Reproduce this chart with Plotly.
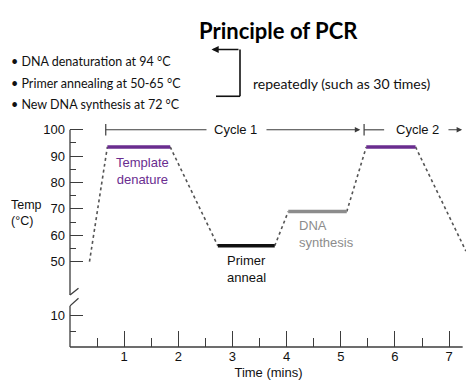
import plotly.graph_objects as go

# ---------------- data ----------------
title_text = "Principle of PCR"
step_lines = ["• DNA denaturation at 94 °C",
              "• Primer annealing at 50-65 °C",
              "• New DNA synthesis at 72 °C"]
repeat_note = "repeatedly (such as 30 times)"

stage_labels = ["Template<br>denature", "Primer<br>anneal", "DNA<br>synthesis", ""]
stage_start = [0.69, 2.73, 4.03, 5.47]   # minutes
stage_end = [1.85, 3.78, 5.11, 6.38]     # minutes
stage_temp = [93.5, 56, 69, 93.5]        # °C
ramp_in = [0.36, 50]                     # first ramp starts here (min, °C)
ramp_out = [7.31, 54]                    # last ramp ends here (min, °C)

cycle_names = ["Cycle 1", "Cycle 2"]
cycle_start = [0.66, 5.43]
cycle_label_x = [3.05, 6.41]

x_major = [1, 2, 3, 4, 5, 6, 7]
x_minor = [0.5, 1.5, 2.5, 3.5, 4.5, 5.5, 6.5]
y_major = [10, 50, 60, 70, 80, 90, 100]
y_minor = [5, 55, 65, 75, 85, 95]

# ---------------- styles / geometry ----------------
OFF = 8                    # page body margin
W, H = 474 - OFF, 387 - OFF
ML, MR, MT, MB = 70 - OFF, 7, 114.4 - OFF, 40
XR = [0, 7.33]
YR = [17.6, 106.0]
BREAK_T = 40.0            # temperatures below this go on the lower (compressed) segment
LOW_OFF, LOW_SCALE = 17.6, 1.19

stage_colors = ["#6a2d8f", "#111111", "#8c8c8c", "#6a2d8f"]
stage_text_colors = ["#6a2d8f", "#111111", "#8c8c8c", "#111111"]
ramp_color = "#555555"
axis_color = "#3c3c3c"
chart_font = "Liberation Sans, Arial, Helvetica, sans-serif"
top_font = "Lato, Open Sans, sans-serif"

PW = W - ML - MR
PH = H - MT - MB


def disp(t):
    """Temperature -> display coordinate on the broken y axis."""
    return t if t >= BREAK_T else LOW_OFF + LOW_SCALE * t


def pxp(px):   # page pixel x -> paper
    return (px - OFF - ML) / PW


def pyp(py):   # page pixel y -> paper
    return (H - MB - (py - OFF)) / PH


def dyp(d):    # display y -> paper
    return (d - YR[0]) / (YR[1] - YR[0])


fig = go.Figure()

# ramps (dotted) between plateaus
ramp_pts = [(ramp_in[0], ramp_in[1])]
for s, e, t in zip(stage_start, stage_end, stage_temp):
    ramp_pts.append((s, t))
    ramp_pts.append((e, t))
ramp_pts.append((ramp_out[0], ramp_out[1]))
for i in range(0, len(ramp_pts), 2):
    (x0, t0), (x1, t1) = ramp_pts[i], ramp_pts[i + 1]
    fig.add_trace(go.Scatter(x=[x0, x1], y=[disp(t0), disp(t1)], mode="lines",
                             line=dict(color=ramp_color, width=1.6, dash="3px,3px"),
                             hoverinfo="skip", showlegend=False))

# plateaus
for s, e, t, c in zip(stage_start, stage_end, stage_temp, stage_colors):
    fig.add_trace(go.Scatter(x=[s, e], y=[disp(t), disp(t)], mode="lines",
                             line=dict(color=c, width=3.5),
                             hoverinfo="skip", showlegend=False))

# stage labels
label_pos = [(1.33, 84.5, "center"), (2.86, 47.3, "left"), (4.19, 60.3, "left")]
for (lx, ly, anc), txt, col in zip(label_pos, stage_labels, stage_text_colors):
    fig.add_annotation(x=lx, y=ly, text=txt, showarrow=False, xanchor=anc,
                       align="left" if anc == "left" else "center",
                       font=dict(family=chart_font, size=13, color=col))

# cycle markers
cy = 100
for cs in cycle_start:
    fig.add_shape(type="line", x0=cs, x1=cs, y0=cy - 2.2, y1=cy + 2.2,
                  line=dict(color=axis_color, width=1.2))
for name, lx in zip(cycle_names, cycle_label_x):
    fig.add_annotation(x=lx, y=cy, text=name, showarrow=False,
                       font=dict(family=chart_font, size=13, color="#111111"))
fig.add_shape(type="line", x0=cycle_start[0], x1=2.52, y0=cy, y1=cy, line=dict(color=axis_color, width=1.1))
fig.add_annotation(x=5.36, y=cy, ax=3.6, ay=cy, axref="x", ayref="y", text="", showarrow=True,
                   arrowhead=2, arrowsize=1, arrowwidth=1.1, arrowcolor=axis_color)
fig.add_shape(type="line", x0=cycle_start[1], x1=5.8, y0=cy, y1=cy, line=dict(color=axis_color, width=1.1))
fig.add_annotation(x=7.24, y=cy, ax=6.96, ay=cy, axref="x", ayref="y", text="", showarrow=True,
                   arrowhead=2, arrowsize=1, arrowwidth=1.1, arrowcolor=axis_color)

# broken y axis + x axis lines (paper coords so they are not clipped)
up_end, up_slash = 37.3, 39.9
lo_start, lo_slash = 33.2, 36.1
slash_dx = 8.5 / PW
axl = dict(color=axis_color, width=1.3)
fig.add_shape(type="line", xref="paper", yref="paper", x0=0, x1=0, y0=dyp(100), y1=dyp(up_end), line=axl)
fig.add_shape(type="line", xref="paper", yref="paper", x0=0, x1=slash_dx, y0=dyp(up_end), y1=dyp(up_slash), line=axl)
fig.add_shape(type="line", xref="paper", yref="paper", x0=0, x1=slash_dx, y0=dyp(lo_start), y1=dyp(lo_slash), line=axl)
fig.add_shape(type="line", xref="paper", yref="paper", x0=0, x1=0, y0=dyp(lo_start), y1=0, line=axl)
fig.add_shape(type="line", xref="paper", yref="paper", x0=0, x1=(7.25 - XR[0]) / (XR[1] - XR[0]), y0=0, y1=0, line=axl)

# y axis title
fig.add_annotation(xref="paper", yref="y", x=pxp(9), y=68.3, xanchor="left", align="left",
                   text="Temp<br>(°C)", showarrow=False,
                   font=dict(family=chart_font, size=12.5, color="#111111"))

# top texts
fig.add_annotation(xref="paper", yref="paper", x=pxp(197), y=pyp(16), text="<b>" + title_text + "</b>",
                   showarrow=False, font=dict(family=top_font, size=22, color="#000000"))
for i, line in enumerate(step_lines):
    fig.add_annotation(xref="paper", yref="paper", x=pxp(9), y=pyp(53 + 21 * i), xanchor="left",
                       text=line, showarrow=False, font=dict(family=top_font, size=12.5, color="#111111"))
fig.add_annotation(xref="paper", yref="paper", x=pxp(251), y=pyp(73.5), xanchor="left",
                   text=repeat_note, showarrow=False, font=dict(family=top_font, size=14, color="#111111"))
brk = dict(color="#111111", width=1.6)
fig.add_shape(type="line", xref="paper", yref="paper", x0=pxp(240), x1=pxp(240), y0=pyp(50), y1=pyp(96.7), line=brk)
fig.add_shape(type="line", xref="paper", yref="paper", x0=pxp(240), x1=pxp(216), y0=pyp(96.7), y1=pyp(96.7), line=brk)
fig.add_annotation(xref="paper", yref="paper", x=pxp(211.5), y=pyp(50), ax=28.5, ay=0, text="",
                   showarrow=True, arrowhead=2, arrowsize=0.9, arrowwidth=1.6, arrowcolor="#111111")

fig.update_layout(
    width=W, height=H, margin=dict(l=ML, r=MR, t=MT, b=MB, pad=0, autoexpand=False),
    paper_bgcolor="white", plot_bgcolor="white", showlegend=False,
    font=dict(family=chart_font, size=13, color="#111111"),
)
fig.update_xaxes(range=XR, showgrid=False, zeroline=False, showline=False, automargin=False,
                 tickmode="array", tickvals=x_major, ticktext=[str(v) for v in x_major],
                 ticks="inside", ticklen=16, tickwidth=1.3, tickcolor=axis_color,
                 tickfont=dict(family=chart_font, size=13, color="#111111"),
                 minor=dict(tickmode="array", tickvals=x_minor, ticks="inside", ticklen=9,
                            tickwidth=1.3, tickcolor=axis_color),
                 title=dict(text="Time (mins)", font=dict(family=chart_font, size=13, color="#111111"), standoff=4))
fig.update_yaxes(range=YR, showgrid=False, zeroline=False, showline=False, automargin=False,
                 tickmode="array", tickvals=[disp(v) for v in y_major], ticktext=[str(v) for v in y_major],
                 ticks="inside", ticklen=13, tickwidth=1.3, tickcolor=axis_color,
                 tickfont=dict(family=chart_font, size=13, color="#111111"), ticklabelstandoff=4,
                 minor=dict(tickmode="array", tickvals=[disp(v) for v in y_minor], ticks="inside", ticklen=6,
                            tickwidth=1.3, tickcolor=axis_color))

fig.write_html("out.html")
